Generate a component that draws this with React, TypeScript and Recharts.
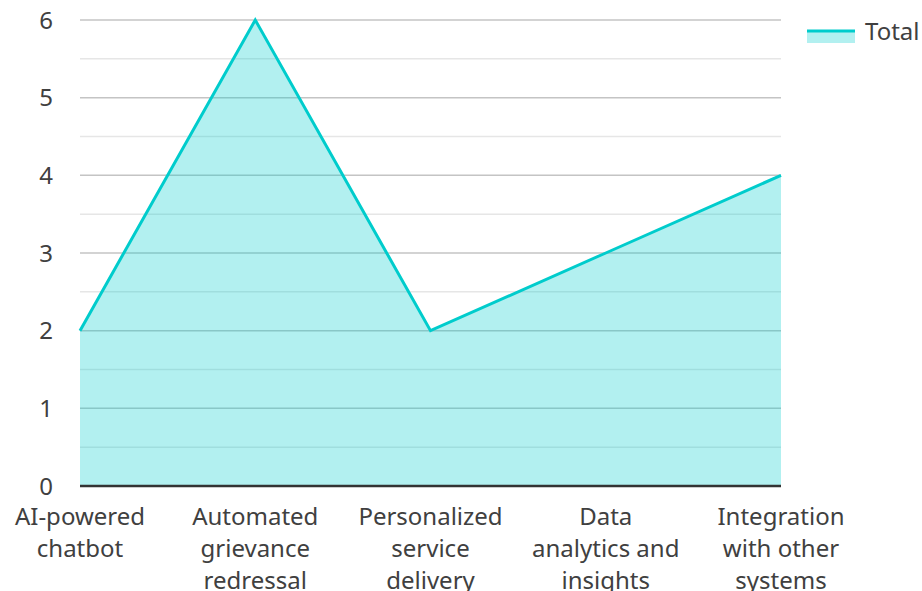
import React from "react";
import { AreaChart, Area, XAxis, YAxis, CartesianGrid } from "recharts";

const categories = [
  "AI-powered\nchatbot",
  "Automated\ngrievance\nredressal",
  "Personalized\nservice\ndelivery",
  "Data\nanalytics and\ninsights",
  "Integration\nwith other\nsystems",
];
const totals = [2, 6, 2, 3, 4];
const yTicks = [0, 1, 2, 3, 4, 5, 6];
const minorTicks = [0.5, 1.5, 2.5, 3.5, 4.5, 5.5];
const seriesName = "Total";

const data = categories.map((c, i) => ({ name: c, Total: totals[i] }));

const FONT = "'Noto Sans', 'Open Sans', sans-serif";
const TEXT = "#404040";
const LINE = "#00cccc";

const XTick = (props: any) => {
  const { x, y, payload } = props;
  const lines = String(payload.value).split("\n");
  return (
    <text x={x} y={y} textAnchor="middle" fill={TEXT} fontSize={24} fontFamily={FONT}>
      {lines.map((l, i) => (
        <tspan key={i} x={x} dy={i === 0 ? 31 : 32}>
          {l}
        </tspan>
      ))}
    </text>
  );
};

export default function App() {
  return (
    <div style={{ position: "absolute", left: 0, top: 0, width: 922, height: 591, background: "#fff" }}>
      <AreaChart width={922} height={591} data={data} margin={{ top: 20, right: 141, bottom: 0, left: 0 }}>
        <CartesianGrid horizontalValues={minorTicks} vertical={false} stroke="#e6e6e6" strokeWidth={1.5} />
        <CartesianGrid horizontalValues={yTicks} vertical={false} stroke="#c4c4c4" strokeWidth={1.5} />
        <XAxis
          dataKey="name"
          interval={0}
          tick={<XTick />}
          tickLine={false}
          axisLine={{ stroke: "#333", strokeWidth: 2.5 }}
          height={105}
        />
        <YAxis
          domain={[0, 6]}
          ticks={yTicks}
          width={80}
          tickLine={false}
          axisLine={false}
          tickSize={0}
          tickMargin={27}
          tick={{ fill: TEXT, fontSize: 24, fontFamily: FONT }}
        />
        <Area
          type="linear"
          dataKey="Total"
          name={seriesName}
          stroke={LINE}
          strokeWidth={3}
          fill={LINE}
          fillOpacity={0.3}
          isAnimationActive={false}
          dot={false}
          activeDot={false}
        />
      </AreaChart>
      <div
        style={{
          position: "absolute",
          left: 806,
          top: 14,
          display: "flex",
          alignItems: "center",
          fontFamily: FONT,
          fontSize: 24,
          color: TEXT,
        }}
      >
        <svg width={50} height={26} style={{ marginRight: 9 }}>
          <rect x={1} y={13} width={48} height={12} fill={LINE} fillOpacity={0.3} />
          <line x1={1} x2={49} y1={13} y2={13} stroke={LINE} strokeWidth={3} />
        </svg>
        <span>{seriesName}</span>
      </div>
    </div>
  );
}
